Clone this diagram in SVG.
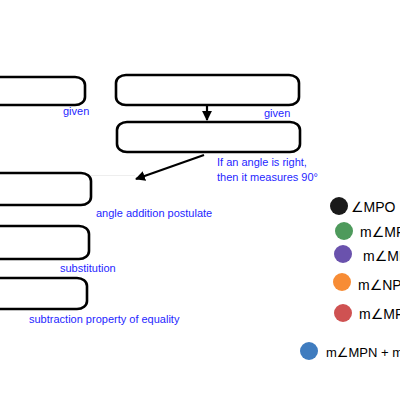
<svg xmlns="http://www.w3.org/2000/svg" width="400" height="400" viewBox="0 0 400 400">
<style>
.box{fill:#fff;stroke:#000;stroke-width:2.6}
.lbl{font-family:"Liberation Sans",Arial,sans-serif;font-size:11px;fill:#1f1fff}
.leg{font-family:"Liberation Sans","DejaVu Sans",sans-serif;font-size:14px;fill:#000}
.conn{stroke:#000;stroke-width:2.2;fill:none}
</style>
<defs>
<marker id="ah" viewBox="0 0 10 10" refX="9" refY="5" markerWidth="4.5" markerHeight="4.5" orient="auto" markerUnits="strokeWidth">
<path d="M0,0 L10,5 L0,10 z" fill="#000"/>
</marker>
</defs>
<rect width="400" height="400" fill="#fff"/>
<g id="connectors">
<line class="conn" x1="207" y1="105" x2="207" y2="120" marker-end="url(#ah)"/>
<line class="conn" x1="204" y1="155" x2="136" y2="179" marker-end="url(#ah)"/>
<line x1="91" y1="175.5" x2="135" y2="175.5" stroke="#eeeeee" stroke-width="1"/>
</g>
<g id="n1"><rect class="box" x="-20" y="77" width="105" height="28" rx="10" ry="8"/><text class="lbl" x="63" y="115">given</text></g>
<g id="n2"><rect class="box" x="116" y="75" width="183" height="30" rx="10" ry="8"/><text class="lbl" x="264" y="117">given</text></g>
<g id="n3"><rect class="box" x="117" y="122" width="183" height="30" rx="10" ry="8"/><text class="lbl" x="217" y="166">If an angle is right,</text><text class="lbl" x="217" y="181">then it measures 90°</text></g>
<g id="n4"><rect class="box" x="-20" y="173" width="111" height="32" rx="10" ry="8"/><text class="lbl" x="96" y="217">angle addition postulate</text></g>
<g id="n5"><rect class="box" x="-20" y="226" width="109" height="33" rx="10" ry="8"/><text class="lbl" x="60" y="272">substitution</text></g>
<g id="n6"><rect class="box" x="-20" y="278" width="107" height="31" rx="10" ry="8"/><text class="lbl" x="29" y="323">subtraction property of equality</text></g>
<g id="legend">
<circle cx="339" cy="206" r="9" fill="#1a1a1a"/><text class="leg" x="351" y="212">∠MPO</text>
<circle cx="344" cy="231" r="9" fill="#4e9a5c"/><text class="leg" x="360" y="237">m∠MP</text>
<circle cx="343" cy="254" r="9" fill="#6a52ad"/><text class="leg" x="363" y="261">m∠MP</text>
<circle cx="342" cy="282" r="9" fill="#f78c35"/><text class="leg" x="358" y="290">m∠NP</text>
<circle cx="343" cy="313" r="9" fill="#cf5252"/><text class="leg" x="359" y="319">m∠MP</text>
<circle cx="309" cy="351" r="9" fill="#3f7cbf"/><text class="leg" x="326" y="357" style="font-size:13px">m∠MPN + m</text>
</g>
</svg>
